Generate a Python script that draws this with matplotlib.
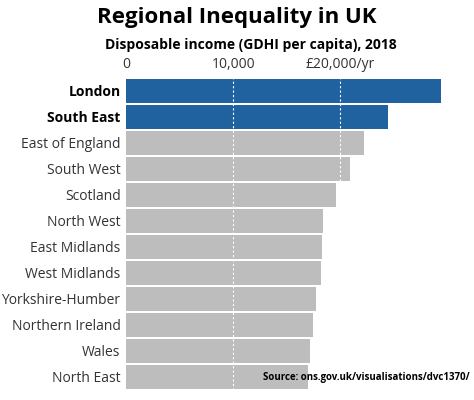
import matplotlib.pyplot as plt
import numpy as np

regions = ['London', 'South East', 'East of England', 'South West', 'Scotland',
           'North West', 'East Midlands', 'West Midlands', 'Yorkshire-Humber',
           'Northern Ireland', 'Wales', 'North East']
gdhi = [29362, 24400, 22200, 20900, 19600, 18400, 18300, 18150, 17750, 17400, 17150, 17000]
highlight = ['London', 'South East']
tick_vals = [0, 10000, 20000]
tick_labels = ['0', '10,000', '£20,000/yr']

plt.rcParams['font.family'] = ['Open Sans', 'DejaVu Sans']

fig = plt.figure(figsize=(4.74, 4.0), dpi=100)
ax = fig.add_axes([0.266, 0.025, 0.664, 0.78])

y = np.arange(len(regions))
colors = ['#2062a0' if r in highlight else '#bdbdbd' for r in regions]
ax.barh(y, gdhi, height=0.9, color=colors, zorder=1)
for v in tick_vals[1:]:
    ax.axvline(v, color='white', linestyle=(0, (2, 2)), linewidth=0.8, zorder=2)

ax.set_ylim(len(regions) - 0.5, -0.5)
ax.set_xlim(0, max(gdhi))
ax.set_yticks(y)
ax.set_yticklabels(regions, fontsize=10, color='#333333')
for lbl in ax.get_yticklabels():
    if lbl.get_text() in highlight:
        lbl.set_fontweight('bold')
        lbl.set_color('black')
ax.xaxis.tick_top()
ax.set_xticks(tick_vals)
ax.set_xticklabels(tick_labels, fontsize=10, color='#333333')
ax.tick_params(length=0, pad=4)
for s in ax.spines.values():
    s.set_visible(False)

fig.text(0.5, 0.955, 'Regional Inequality in UK', ha='center', va='center',
         fontsize=16, fontweight='bold')
fig.text(0.53, 0.888, 'Disposable income (GDHI per capita), 2018', ha='center',
         va='center', fontsize=10, fontweight='bold')
fig.text(0.99, 0.057, 'Source: ons.gov.uk/visualisations/dvc1370/', ha='right',
         va='center', fontsize=7, fontweight='bold')

fig.savefig('out.png', dpi=100)
